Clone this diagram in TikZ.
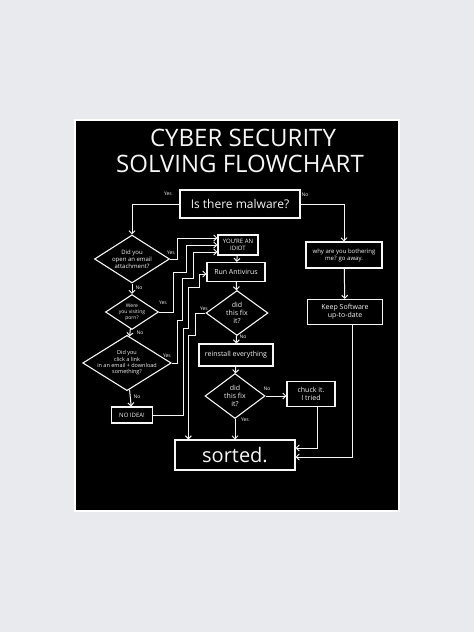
\documentclass[tikz,border=0pt]{standalone}
\usepackage{fontspec}
\setmainfont{Open Sans}
\usetikzlibrary{shapes.geometric, arrows.meta, positioning}
\usepackage{xcolor}
\definecolor{posterbg}{RGB}{232,234,238}
\definecolor{chalk}{RGB}{246,246,246}

\tikzset{
  title/.style={text=chalk, inner sep=0pt, font=\fontsize{24}{26}\selectfont},
  flowbox/.style={draw=chalk, line width=1.1pt, text=chalk, align=center, inner sep=1pt, font=\fontsize{7}{8}\selectfont},
  decision/.style={diamond, draw=chalk, line width=1.1pt, text=chalk, align=center, inner sep=0pt, font=\fontsize{6}{7}\selectfont},
  link/.style={draw=chalk, line width=1pt, -{Straight Barb[length=3pt,width=6pt]}},
  answer/.style={text=chalk, inner sep=0pt, font=\fontsize{5}{5}\selectfont},
}

\begin{document}
\begin{tikzpicture}[x=1pt, y=-1pt]
    % Poster and print
    \fill[posterbg] (0,0) rectangle (474,632);
    \fill[white] (74,119) rectangle (400,512);
    \fill[black] (76,121) rectangle (398,510);
    \useasboundingbox (0,0) rectangle (474,632);

    % Title
    \node[title] (title1) at (243,138) {CYBER SECURITY};
    \node[title] (title2) at (240,164) {SOLVING FLOWCHART};

    % Start
    \node[flowbox, minimum width=120, minimum height=28, font=\fontsize{12}{14}\selectfont] (malware) at (240,204) {Is there malware?};

    % Left column: questions
    \node[decision, minimum width=75, minimum height=48, aspect=1.56] (attach) at (132,259) {Did you\\open an email\\attachment?};
    \node[decision, minimum width=53, minimum height=35, aspect=1.5, inner xsep=-2pt, font=\fontsize{5}{6}\selectfont] (porn) at (132,312) {Were\\you visiting\\porn?};
    \node[decision, minimum width=85, minimum height=53, aspect=1.6, inner xsep=-5pt, font=\fontsize{5.5}{6.3}\selectfont] (link) at (127,363) {Did you\\click a link\\in an email + download\\something?};
    \node[flowbox, minimum width=41, minimum height=16, font=\fontsize{6}{7}\selectfont] (noidea) at (132,415) {NO IDEA!};

    % Middle column: fixing it
    \node[flowbox, minimum width=40, minimum height=20, font=\fontsize{6}{7}\selectfont] (idiot) at (238,245) {YOU'RE AN\\IDIOT};
    \node[flowbox, minimum width=58, minimum height=19] (antivirus) at (236,272) {Run Antivirus};
    \node[decision, minimum width=62, minimum height=45, aspect=1.38, font=\fontsize{7}{8}\selectfont] (fixone) at (237,313) {did\\this fix\\it?};
    \node[flowbox, minimum width=74, minimum height=22] (reinstall) at (236,355) {reinstall everything};
    \node[decision, minimum width=60, minimum height=45, aspect=1.33, font=\fontsize{7}{8}\selectfont] (fixtwo) at (235,396) {did\\this fix\\it?};
    \node[flowbox, minimum width=48, minimum height=25] (chuck) at (311,394) {chuck it.\\I tried};
    \node[flowbox, minimum width=120, minimum height=30, font=\fontsize{20}{22}\selectfont] (sorted) at (235,455) {sorted.};

    % Right column: no malware
    \node[flowbox, minimum width=76, minimum height=26, font=\fontsize{6}{7}\selectfont] (bother) at (344,255) {why are you bothering\\me? go away.};
    \node[flowbox, minimum width=75, minimum height=25] (update) at (345,312) {Keep Software\\up-to-date};

    % Answers
    \node[answer] (yesmal) at (168,194) {Yes};
    \node[answer] (nomal) at (305,195) {No};
    \node[answer] (yesatt) at (171,253) {Yes};
    \node[answer] (noatt) at (139,288) {No};
    \node[answer] (yesporn) at (163,303) {Yes};
    \node[answer] (noporn) at (140,333) {No};
    \node[answer] (yeslink) at (167,356) {Yes};
    \node[answer] (nolink) at (137,397) {No};
    \node[answer] (yesfixone) at (204,309) {Yes};
    \node[answer] (nofixone) at (243,337) {No};
    \node[answer] (nofixtwo) at (267,389) {No};
    \node[answer] (yesfixtwo) at (245,420) {Yes};

    % Connectors
    \draw[link] (malware.west) -| (attach.north);
    \draw[link] (malware.east) -| (bother.north);
    \draw[link] (bother) -- (update);
    \draw[link] ([xshift=7pt]update.south) |- ([yshift=-2pt]sorted.east);

    \draw[link] (attach) -- (porn);
    \draw[link] (porn) -- (link);
    \draw[link] (link) -- (noidea);

    \draw[link] (attach.east) -- ++(7,0) |- ([yshift=7pt]idiot.west);
    \draw[link] (porn.east) -- ++(14,0) -- ++(0,-40) -- ++(13,0) |- (idiot.west);
    \draw[link] (link.east) -- ++(6,0) -- ++(0,-43) -- ++(5,0) -- ++(0,-42) -- ++(11,0) |- ([yshift=-7pt]idiot.west);
    \draw[link] (noidea.east) -- ++(30,0) -- ++(0,-87) -- ++(5,0) -- ++(0,-41) -- ++(11,0) |- ([yshift=-2pt]antivirus.west);

    \draw[link] (idiot) -- (antivirus);
    \draw[link] (antivirus) -- (fixone);
    \draw[link] (fixone) -- (reinstall);
    \draw[link] (reinstall) -- (fixtwo);
    \draw[link] (fixone.west) -- ++(-10,0) -- ++(0,22) -- ++(-7,0) coordinate (fixdrop) -- (fixdrop |- sorted.north);
    \draw[link] (fixtwo.east) -- (fixtwo.east -| chuck.west);
    \draw[link] (fixtwo.south) -- (fixtwo.south |- sorted.north);
    \draw[link] ([xshift=6pt]chuck.south) |- ([yshift=7pt]sorted.east);
\end{tikzpicture}
\end{document}
